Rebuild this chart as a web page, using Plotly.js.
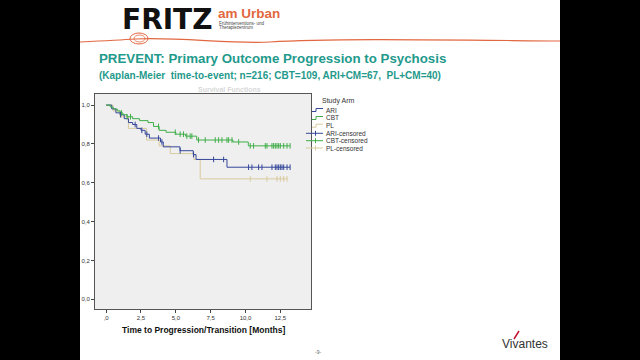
<!DOCTYPE html>
<html><head><meta charset="utf-8">
<script src="https://cdn.plot.ly/plotly-3.0.1.min.js"></script>
<style>html,body{margin:0;padding:0;background:#000;}#chart{width:640px;height:360px;}</style>
</head><body><div id="chart"></div>
<script>
// ---- Data ----
const cbtTime = [0, 0.3, 0.5, 0.8, 1.0, 1.2, 1.5, 1.9, 2.4, 3.0, 3.4, 3.8, 4.3, 5.0, 5.7, 6.5, 9.1, 10.2, 13.2];
const cbtSurv = [1.0, 0.99, 0.98, 0.97, 0.96, 0.95, 0.94, 0.93, 0.92, 0.91, 0.89, 0.87, 0.86, 0.85, 0.84, 0.82, 0.81, 0.79, 0.79];
const ariTime = [0, 0.4, 0.7, 1.0, 1.3, 1.6, 1.9, 2.2, 2.5, 2.8, 3.1, 3.9, 4.1, 5.3, 6.25, 6.45, 8.67, 13.2];
const ariSurv = [1.0, 0.98, 0.96, 0.95, 0.93, 0.91, 0.90, 0.88, 0.87, 0.85, 0.83, 0.81, 0.785, 0.765, 0.745, 0.72, 0.68, 0.68];
const plTime = [0, 0.5, 1.0, 1.6, 2.9, 3.8, 4.6, 6.3, 6.75, 13.0];
const plSurv = [1.0, 0.97, 0.94, 0.88, 0.82, 0.79, 0.75, 0.72, 0.62, 0.62];
const cbtCens = [1.1, 1.5, 1.75, 3.76, 4.96, 5.31, 5.55, 5.79, 6.03, 6.15, 6.63, 7.11, 7.83, 8.07, 8.31, 8.67, 8.79, 9.03, 9.51, 10.34, 10.58, 11.42, 11.54, 11.9, 12.02, 12.14, 12.26, 12.38, 12.5, 12.74, 12.98, 13.2];
const ariCens = [1.04, 2.08, 2.56, 2.92, 3.76, 4.0, 5.31, 6.27, 7.71, 8.43, 10.22, 10.46, 10.94, 11.18, 11.9, 12.14, 12.26, 12.38, 12.5, 12.62, 12.74, 12.98, 13.2];
const plCens = [10.34, 11.54, 12.26, 12.5, 12.74, 12.98];
const xTickVals = [0, 2.5, 5, 7.5, 10, 12.5];
const xTickText = [",0", "2,5", "5,0", "7,5", "10,0", "12,5"];
const yTickVals = [0, 0.2, 0.4, 0.6, 0.8, 1.0];
const yTickText = ["0,0", "0,2", "0,4", "0,6", "0,8", "1,0"];
const legendLabels = ["ARI", "CBT", "PL", "ARI-censored", "CBT-censored", "PL-censored"];

const cAri = "#34479a", cCbt = "#3fae49", cPl = "#d9cb9e";

function stepAt(times, surv, t) {
  let v = surv[0];
  for (let i = 0; i < times.length; i++) { if (times[i] <= t) v = surv[i]; }
  return v;
}
const font = "Liberation Sans, Arial, sans-serif";
const px = x => x / 640, py = y => 1 - y / 360;

const traces = [];
function curve(t, s, c) {
  traces.push({x: t, y: s, mode: "lines", line: {shape: "hv", color: c, width: 1}, showlegend: false, hoverinfo: "skip"});
}
function cens(times, t, s, c) {
  traces.push({x: times, y: times.map(v => stepAt(t, s, v)), mode: "markers",
    marker: {symbol: "line-ns", size: 4, line: {color: c, width: 1}}, showlegend: false, hoverinfo: "skip"});
}
curve(plTime, plSurv, cPl);
curve(ariTime, ariSurv, cAri);
curve(cbtTime, cbtSurv, cCbt);
cens(plCens, plTime, plSurv, cPl);
cens(ariCens, ariTime, ariSurv, cAri);
cens(cbtCens, cbtTime, cbtSurv, cCbt);

const shapes = [
  {type: "rect", xref: "paper", yref: "paper", x0: 0, x1: px(80), y0: 0, y1: 1, fillcolor: "#000", line: {width: 0}, layer: "above"},
  {type: "rect", xref: "paper", yref: "paper", x0: px(560), x1: 1, y0: 0, y1: 1, fillcolor: "#000", line: {width: 0}, layer: "above"},
  // orange line under logo
  {type: "path", xref: "paper", yref: "paper", line: {color: "#e2673f", width: 1.2},
   path: `M ${px(80)},${py(42)} C ${px(100)},${py(41)} ${px(120)},${py(40)} ${px(135)},${py(39)} C ${px(180)},${py(37)} ${px(230)},${py(44)} ${px(270)},${py(42)} C ${px(330)},${py(38)} ${px(450)},${py(40)} ${px(560)},${py(41)}`},
  {type: "circle", xref: "paper", yref: "paper", x0: px(130), x1: px(148), y0: py(44), y1: py(33), line: {color: "#e2673f", width: 1}},
  {type: "circle", xref: "paper", yref: "paper", x0: px(134), x1: px(145), y0: py(42), y1: py(35), line: {color: "#e2673f", width: 0.8}},
  // Vivantes tick
  {type: "line", xref: "paper", yref: "paper", x0: px(514), y0: py(339), x1: px(519), y1: py(331), line: {color: "#c8102e", width: 1.5}}
];
// legend glyphs
const legY = [110, 118, 125.7, 133.3, 140.7, 148];
const legC = [cAri, cCbt, cPl, cAri, cCbt, cPl];
const annotations = [];
legendLabels.forEach((lab, i) => {
  const y = legY[i], c = legC[i];
  if (i < 3) {
    shapes.push({type: "path", xref: "paper", yref: "paper", line: {color: c, width: 1},
      path: `M ${px(312)},${py(y + 1.5)} L ${px(316)},${py(y + 1.5)} L ${px(316)},${py(y - 1.5)} L ${px(323)},${py(y - 1.5)}`});
  } else {
    shapes.push({type: "line", xref: "paper", yref: "paper", x0: px(306), x1: px(323), y0: py(y), y1: py(y), line: {color: c, width: 1}});
    shapes.push({type: "line", xref: "paper", yref: "paper", x0: px(315.5), x1: px(315.5), y0: py(y - 2.5), y1: py(y + 2.5), line: {color: c, width: 1}});
  }
  annotations.push({xref: "paper", yref: "paper", x: px(324), y: py(y), xanchor: "left", yanchor: "middle",
    text: lab, showarrow: false, font: {family: font, size: 6.5, color: "#333"}});
});
annotations.push(
  {xref: "paper", yref: "paper", x: px(320), y: py(101), xanchor: "left", yanchor: "middle", text: "Study Arm", showarrow: false, font: {family: font, size: 7, color: "#333"}},
  {xref: "paper", yref: "paper", x: px(229), y: py(89), xanchor: "center", yanchor: "middle", text: "<b>Survival Functions</b>", showarrow: false, font: {family: font, size: 7, color: "#d8d8d8"}},
  {xref: "paper", yref: "paper", x: px(120), y: py(19), xanchor: "left", yanchor: "middle", text: "<b>FRITZ</b>", showarrow: false, font: {family: "DejaVu Sans, sans-serif", size: 28, color: "#111"}},
  {xref: "paper", yref: "paper", x: px(216), y: py(13.5), xanchor: "left", yanchor: "middle", text: "<b>am Urban</b>", showarrow: false, font: {family: font, size: 13.5, color: "#e2673f"}},
  {xref: "paper", yref: "paper", x: px(217), y: py(23.5), xanchor: "left", yanchor: "middle", text: "Frühinterventions- und", showarrow: false, font: {family: font, size: 4.5, color: "#444"}},
  {xref: "paper", yref: "paper", x: px(217), y: py(28), xanchor: "left", yanchor: "middle", text: "Therapiezentrum", showarrow: false, font: {family: font, size: 4.5, color: "#444"}},
  {xref: "paper", yref: "paper", x: px(97), y: py(58.5), xanchor: "left", yanchor: "middle", text: "<b>PREVENT: Primary Outcome Progression to Psychosis</b>", showarrow: false, font: {family: font, size: 13.3, color: "#1f9a8c"}},
  {xref: "paper", yref: "paper", x: px(97), y: py(75), xanchor: "left", yanchor: "middle", text: "<b>(Kaplan-Meier  time-to-event; n=216; CBT=109, ARI+CM=67,  PL+CM=40)</b>", showarrow: false, font: {family: font, size: 10, color: "#1f9a8c"}},
  {xref: "paper", yref: "paper", x: px(203), y: py(330), xanchor: "center", yanchor: "middle", text: "<b>Time to Progression/Transition [Months]</b>", showarrow: false, font: {family: font, size: 8.5, color: "#111"}},
  {xref: "paper", yref: "paper", x: px(525), y: py(344), xanchor: "center", yanchor: "middle", text: "Vivantes", showarrow: false, font: {family: font, size: 12, color: "#333"}},
  {xref: "paper", yref: "paper", x: px(318), y: py(352), xanchor: "center", yanchor: "middle", text: "-9-", showarrow: false, font: {family: font, size: 5, color: "#666"}}
);

const layout = {
  width: 640, height: 360,
  margin: {l: 0, r: 0, t: 0, b: 0},
  paper_bgcolor: "#ffffff",
  plot_bgcolor: "#efefef",
  showlegend: false,
  xaxis: {domain: [px(95), px(311)], range: [-0.8, 14.7], tickvals: xTickVals, ticktext: xTickText,
    ticks: "outside", ticklen: 3, tickcolor: "#444", showgrid: false, zeroline: false,
    showline: true, linecolor: "#555", linewidth: 1, mirror: true,
    tickfont: {family: font, size: 6, color: "#333"}, fixedrange: true},
  yaxis: {domain: [py(309), py(94)], range: [-0.05, 1.057], tickvals: yTickVals, ticktext: yTickText,
    ticks: "outside", ticklen: 3, tickcolor: "#444", showgrid: false, zeroline: false,
    showline: true, linecolor: "#555", linewidth: 1, mirror: true,
    tickfont: {family: font, size: 6, color: "#333"}, fixedrange: true},
  shapes: shapes,
  annotations: annotations
};
Plotly.newPlot("chart", traces, layout, {staticPlot: true, displayModeBar: false});
</script></body></html>
